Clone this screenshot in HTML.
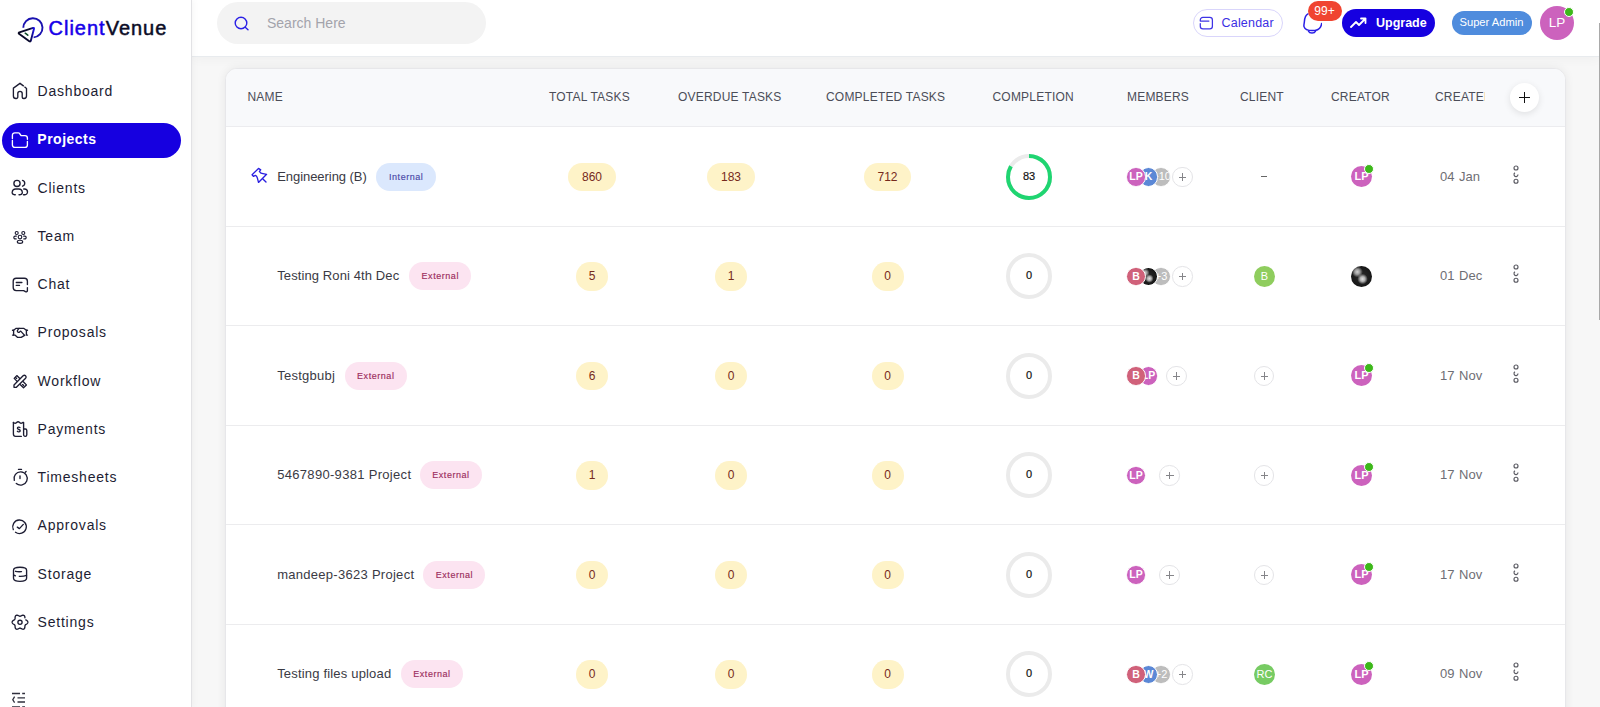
<!DOCTYPE html>
<html><head><meta charset="utf-8">
<style>
*{box-sizing:border-box;margin:0;padding:0}
html,body{width:1600px;height:707px;overflow:hidden;background:#f7f7f7;font-family:"Liberation Sans",sans-serif;position:relative}
.abs{position:absolute}
#side{position:absolute;left:0;top:0;width:192px;height:707px;background:#fff;border-right:1px solid #e2e2e5;box-shadow:1px 0 7px rgba(0,0,0,0.045);z-index:2}
.nav{position:absolute;left:0;width:191px;height:36px}
.nav svg{position:absolute;left:12px;top:10px;width:16px;height:16px;fill:none;stroke:#2f2f3d;stroke-width:1.5;stroke-linecap:round;stroke-linejoin:round}
.nav span{position:absolute;left:38px;top:10px;font-size:14px;letter-spacing:0.55px;color:#2a2a38;line-height:16px}
.nav.act{left:2px;width:179px;height:35px;background:#1600e0;border-radius:18px}
.nav.act svg{left:10px;stroke:#fff}
.nav.act span{left:35.5px;color:#fff;font-weight:bold;letter-spacing:0.1px}
#hdr{position:absolute;left:192px;top:0;width:1408px;height:56px;background:#fff;box-shadow:0 1px 0 #e8ebee,0 2px 12px rgba(0,0,0,0.045);z-index:1}
#card{position:absolute;left:225px;top:68px;width:1341px;height:700px;background:#fff;border:1px solid #e7e7ea;border-radius:12px;box-shadow:0 0 10px rgba(0,0,0,0.07);overflow:hidden}
#thead{position:absolute;left:0;top:0;width:100%;height:58px;background:#f8f9fb;border-bottom:1.5px solid #ececef}
.th{position:absolute;top:21.2px;font-size:12px;color:#4b4d58;letter-spacing:0.2px;line-height:14px;white-space:nowrap}
.row{position:absolute;left:0;width:100%;border-bottom:1px solid #ececee}
.pill{position:absolute;height:28.5px;border-radius:14.25px;background:#fef3c8;color:#762a1c;font-size:12px;text-align:center;line-height:29px}
.nm{position:absolute;font-size:13px;color:#3a3a44;line-height:16px;white-space:nowrap;letter-spacing:0.1px}
.badge{position:absolute;height:28px;border-radius:14px;font-size:9px;line-height:28.5px;text-align:center;letter-spacing:0.55px;text-indent:0.55px;-webkit-text-stroke:0.15px currentColor}
.int{background:#dbe8fd;color:#4a48a8}
.ext{background:#fce4f1;color:#9b2c5c}
.ring{position:absolute;width:46px;height:46px}
.ring span{position:absolute;left:0;top:0;width:46px;height:46px;text-align:center;line-height:44.6px;font-size:11px;color:#111;-webkit-text-stroke:0.2px #111}
.av{position:absolute;border-radius:50%;color:#fff;text-align:center;overflow:hidden;font-weight:bold}
.plus{position:absolute;width:20px;height:20px;border-radius:50%;border:1px solid #e4e4e7;background:#fff}
.plus:before{content:"";position:absolute;left:5.9px;top:8.9px;width:7.5px;height:1px;background:#858589}
.plus:after{content:"";position:absolute;left:9.1px;top:5.6px;width:1px;height:7.5px;background:#858589}
.date{position:absolute;left:1214px;width:45.3px;word-spacing:1px;overflow:hidden;white-space:nowrap;font-size:13px;color:#6e6e74;line-height:16px}
.keb{position:absolute;left:1286.4px;width:8px;height:20px}
.dot{position:absolute;width:9px;height:9px;border-radius:50%;background:#3db81a;border:1px solid #fff}
</style></head>
<body>
<div id="side">
  <svg class="abs" style="left:15px;top:14px" width="30" height="30" viewBox="0 0 30 30">
    <defs><linearGradient id="lg" x1="0" y1="0" x2="1" y2="0"><stop offset="0" stop-color="#0a0a24"/><stop offset="0.75" stop-color="#0a0a30"/><stop offset="1" stop-color="#1c10f0"/></linearGradient></defs>
    <path d="M8.3 13.8 A9.6 9.6 0 1 1 18.6 23.4" fill="none" stroke="#1a12b0" stroke-width="1.9"/>
    <path d="M4.4 18.3 L18.1 13.9 Q19.3 13.6 19 14.8 L15.9 26.6 Q15.5 28 14.3 27.2 L4 19.8 Q3.2 19 4.4 18.3Z" fill="none" stroke="url(#lg)" stroke-width="1.9" stroke-linejoin="round"/>
    <path d="M10.2 19.2 L12.8 21.2" stroke="#0d4a26" stroke-width="1.5" stroke-linecap="round"/>
  </svg>
  <div class="abs" style="left:48.5px;top:17px;font-size:20px;font-weight:normal;line-height:22px;letter-spacing:1px;-webkit-text-stroke:0.5px currentColor"><span style="color:#1600e8">Client</span><span style="color:#0c0c26">Venue</span></div>

  <svg class="abs" style="left:8px;top:80.00px" width="24" height="24" viewBox="0 0 24 24" fill="none" stroke="#1d1d33" stroke-width="1.35" stroke-linecap="round" stroke-linejoin="round"><path d="M12 3.4L5.4 8.1V16a2.5 2.5 0 0 0 2.5 2.5h.4a1.5 1.5 0 0 0 1.5-1.5v-3.4a2.2 2.2 0 0 1 4.4 0V17a1.5 1.5 0 0 0 1.5 1.5h.4a2.5 2.5 0 0 0 2.4-2.5V8.5L16.8 7.1"/><path d="M12 3.4l3.4 2.5"/></svg>
  <div class="abs" style="left:37.6px;top:83.15px;font-size:14px;line-height:16px;letter-spacing:0.78px;color:#1d1d33;font-weight:normal">Dashboard</div>
  <div class="abs" style="left:2px;top:122.5px;width:179px;height:35px;background:#1600e0;border-radius:17.5px"></div>
  <svg class="abs" style="left:8px;top:128.18px" width="24" height="24" viewBox="0 0 24 24" fill="none" stroke="#fff" stroke-width="1.35" stroke-linecap="round" stroke-linejoin="round"><path d="M4.4 10.6V7.2a2.4 2.4 0 0 1 2.4-2.4h3.6c.5 0 .8.2 1.1.6l1.1 1.6c.3.4.6.6 1.1.6h3.3a2.4 2.4 0 0 1 2.4 2.4v1.2"/><path d="M19.4 13.4V17a2.4 2.4 0 0 1-2.4 2.4H6.8A2.4 2.4 0 0 1 4.4 17v-4.6"/></svg>
  <div class="abs" style="left:37.3px;top:131.39px;font-size:14px;line-height:16px;letter-spacing:0.5px;color:#fff;font-weight:bold">Projects</div>
  <svg class="abs" style="left:8px;top:176.36px" width="24" height="24" viewBox="0 0 24 24" fill="none" stroke="#1d1d33" stroke-width="1.35" stroke-linecap="round" stroke-linejoin="round"><circle cx="9" cy="7.4" r="3.1"/><path d="M14.5 4.4a3 3 0 0 1 0 5.8"/><path d="M7.3 18.7H6.2a2.3 2.3 0 0 1-2-2.8 3.5 3.5 0 0 1 3.4-2.9h3.3a3.5 3.5 0 0 1 3.4 2.9 2.3 2.3 0 0 1-2 2.8H11"/><path d="M15.7 13h.8a3 3 0 0 1 3 2.9 2.6 2.6 0 0 1-2.6 2.8h-1.4"/></svg>
  <div class="abs" style="left:37.6px;top:179.63px;font-size:14px;line-height:16px;letter-spacing:0.78px;color:#1d1d33;font-weight:normal">Clients</div>
  <svg class="abs" style="left:8px;top:224.54px" width="24" height="24" viewBox="0 0 24 24" fill="none" stroke="#1d1d33" stroke-width="1.35" stroke-linecap="round" stroke-linejoin="round"><g stroke-width="1.15"><circle cx="8.7" cy="8" r="1.5"/><circle cx="15.3" cy="8" r="1.5"/><circle cx="12" cy="12" r="1.8"/><path d="M8.4 11.1H7.2a1.4 1.4 0 0 0 0 2.8h1"/><path d="M15.6 11.1h1.2a1.4 1.4 0 0 1 0 2.8h-1"/><ellipse cx="12" cy="16.8" rx="2.7" ry="1.6"/></g></svg>
  <div class="abs" style="left:37.6px;top:227.87px;font-size:14px;line-height:16px;letter-spacing:0.78px;color:#1d1d33;font-weight:normal">Team</div>
  <svg class="abs" style="left:8px;top:272.72px" width="24" height="24" viewBox="0 0 24 24" fill="none" stroke="#1d1d33" stroke-width="1.35" stroke-linecap="round" stroke-linejoin="round"><path d="M19.4 11.6V8.2a3 3 0 0 0-3-3H8.2a3 3 0 0 0-3 3v6.4a3 3 0 0 0 3 3h7.4l1.9 1.1a1.3 1.3 0 0 0 1.9-1.1v-3"/><path d="M8.3 9.5h5.6M8.3 12.4h3.2"/></svg>
  <div class="abs" style="left:37.6px;top:276.11px;font-size:14px;line-height:16px;letter-spacing:0.78px;color:#1d1d33;font-weight:normal">Chat</div>
  <svg class="abs" style="left:8px;top:320.90px" width="24" height="24" viewBox="0 0 24 24" fill="none" stroke="#1d1d33" stroke-width="1.35" stroke-linecap="round" stroke-linejoin="round"><path d="M4.5 9.2h1.1v4.9H4.5M19.5 9.2h-1.1v4.9h1.1"/><path d="M5.6 9.2l2.6-1.9h7.4l2.8 1.9"/><path d="M5.6 14.1l1.6.1 2.2 2.1h3.8l3.4-1.9"/><path d="M11 7.4L9.5 9.3a1.4 1.4 0 0 0 2 1.8l1.2-1L16.6 14.4"/></svg>
  <div class="abs" style="left:37.6px;top:324.35px;font-size:14px;line-height:16px;letter-spacing:0.78px;color:#1d1d33;font-weight:normal">Proposals</div>
  <svg class="abs" style="left:8px;top:369.08px" width="24" height="24" viewBox="0 0 24 24" fill="none" stroke="#1d1d33" stroke-width="1.35" stroke-linecap="round" stroke-linejoin="round"><path d="M6 18.3V15.9L15.1 6.8a1.7 1.7 0 0 1 2.5 2.4L8.4 18.3z"/><path d="M9.1 12.4L6.2 9.4l2.6-2.8 3 3"/><path d="M12.4 15.7l3.1 3 2.9-2.8-3.1-3.2"/><path d="M7.6 8.4l1 1M14.6 15.6l1 1"/></svg>
  <div class="abs" style="left:37.6px;top:372.59px;font-size:14px;line-height:16px;letter-spacing:0.78px;color:#1d1d33;font-weight:normal">Workflow</div>
  <svg class="abs" style="left:8px;top:417.26px" width="24" height="24" viewBox="0 0 24 24" fill="none" stroke="#1d1d33" stroke-width="1.35" stroke-linecap="round" stroke-linejoin="round"><path d="M5.4 5.3v11.8a2.2 2.2 0 0 0 2.2 2.2h5.8"/><path d="M5.4 5.4c1 1.1 2.2 1.1 3.2.1 1-1 2-1 3 0s2.2 1 3.2-.1h.8v12.3a1.6 1.6 0 0 0 3.2 0v-4.3a1.4 1.4 0 0 0-1.4-1.4h-1.8"/><path d="M12 10.6c-.6-.7-2.6-.7-2.6.6 0 1.5 2.8 1.1 2.8 2.5 0 1.4-2.2 1.4-2.8.6"/></svg>
  <div class="abs" style="left:37.6px;top:420.83px;font-size:14px;line-height:16px;letter-spacing:0.78px;color:#1d1d33;font-weight:normal">Payments</div>
  <svg class="abs" style="left:8px;top:465.44px" width="24" height="24" viewBox="0 0 24 24" fill="none" stroke="#1d1d33" stroke-width="1.35" stroke-linecap="round" stroke-linejoin="round"><path d="M6.3 15.4a6.6 6.6 0 1 1 2 3.1"/><path d="M10.5 4.4h3M17.3 7.3l.8-.8M12 10.8v2.7"/></svg>
  <div class="abs" style="left:37.6px;top:469.07px;font-size:14px;line-height:16px;letter-spacing:0.78px;color:#1d1d33;font-weight:normal">Timesheets</div>
  <svg class="abs" style="left:8px;top:513.62px" width="24" height="24" viewBox="0 0 24 24" fill="none" stroke="#1d1d33" stroke-width="1.35" stroke-linecap="round" stroke-linejoin="round"><path d="M5.3 15.6A6.8 6.8 0 1 1 7.5 18.3"/><path d="M9.3 13.1l2.1 1.5 3.9-4.2"/></svg>
  <div class="abs" style="left:37.6px;top:517.31px;font-size:14px;line-height:16px;letter-spacing:0.78px;color:#1d1d33;font-weight:normal">Approvals</div>
  <svg class="abs" style="left:8px;top:561.80px" width="24" height="24" viewBox="0 0 24 24" fill="none" stroke="#1d1d33" stroke-width="1.35" stroke-linecap="round" stroke-linejoin="round"><path d="M5.5 8.3c0-2 2.5-3.1 6.5-3.1s6.6 1.1 6.6 3.1v8c0 2-2.6 3-6.6 3s-6.5-1-6.5-3z"/><path d="M7.5 9.3c1.5.4 3.8.5 6 .3"/><path d="M6.4 13.3c.3.3.7.5 1 .6M11.3 14.3c2.8.1 5.4-.2 7.2-.9"/></svg>
  <div class="abs" style="left:37.6px;top:565.55px;font-size:14px;line-height:16px;letter-spacing:0.78px;color:#1d1d33;font-weight:normal">Storage</div>
  <svg class="abs" style="left:8px;top:609.98px" width="24" height="24" viewBox="0 0 24 24" fill="none" stroke="#1d1d33" stroke-width="1.35" stroke-linecap="round" stroke-linejoin="round"><path d="M17.81 9.85 L18.14 10.07 L18.49 10.30 L18.85 10.55 L19.19 10.85 L19.48 11.17 L19.69 11.53 L19.82 11.90 L19.85 12.29 L19.77 12.68 L19.60 13.04 L19.35 13.39 L19.04 13.70 L18.69 13.97 L18.33 14.21 L17.98 14.44 L17.67 14.64 L17.41 14.86 L17.21 15.09 L17.07 15.35 L16.99 15.65 L16.94 15.99 L16.92 16.38 L16.90 16.80 L16.86 17.23 L16.79 17.67 L16.66 18.09 L16.47 18.47 L16.22 18.78 L15.91 19.01 L15.54 19.15 L15.14 19.21 L14.72 19.17 L14.30 19.07 L13.88 18.91 L13.49 18.72 L13.12 18.53 L12.77 18.36 L12.46 18.23 L12.16 18.16 L11.86 18.16 L11.56 18.22 L11.25 18.35 L10.91 18.52 L10.54 18.71 L10.14 18.90 L9.73 19.06 L9.30 19.17 L8.88 19.21 L8.48 19.16 L8.11 19.02 L7.80 18.79 L7.54 18.49 L7.35 18.11 L7.22 17.70 L7.14 17.26 L7.10 16.82 L7.08 16.40 L7.06 16.01 L7.02 15.67 L6.94 15.36 L6.80 15.10 L6.61 14.87 L6.35 14.66 L6.04 14.45 L5.70 14.23 L5.34 13.99 L4.98 13.71 L4.67 13.41 L4.41 13.06 L4.24 12.70 L4.15 12.31 L4.18 11.93 L4.30 11.55 L4.51 11.19 L4.79 10.86 L5.13 10.57 L5.48 10.31 L5.84 10.08 L6.17 9.87 L6.46 9.66 L6.69 9.44 L6.86 9.19 L6.98 8.92 L7.04 8.60 L7.07 8.23 L7.09 7.83 L7.11 7.40 L7.17 6.96 L7.27 6.53 L7.42 6.13 L7.64 5.78 L7.92 5.50 L8.26 5.31 L8.64 5.21 L9.05 5.20 L9.48 5.27 L9.90 5.40 L10.31 5.58 L10.69 5.77 L11.05 5.96 L11.38 6.11 L11.69 6.21 L11.98 6.25 L12.28 6.22 L12.58 6.12 L12.91 5.98 L13.26 5.79 L13.65 5.60 L14.05 5.42 L14.47 5.28 L14.90 5.20 L15.31 5.21 L15.70 5.29 L16.04 5.48 L16.33 5.74 L16.55 6.08 L16.72 6.48 L16.82 6.91 L16.88 7.35 L16.91 7.78"/><circle cx="12" cy="12.3" r="2.1"/></svg>
  <div class="abs" style="left:37.6px;top:613.79px;font-size:14px;line-height:16px;letter-spacing:0.78px;color:#1d1d33;font-weight:normal">Settings</div>
  <svg class="abs" style="left:11px;top:692px" width="16" height="16" viewBox="0 0 16 16" fill="none" stroke="#2f2f3d" stroke-width="1.3"><path d="M1 1.5h8M11.2 1.5h2.8M6.5 5.8h7.5M6.5 10h7.5M3.6 4.6L1.8 7.8 3.6 10.6M1 14.8h8M11.2 14.8h2.8"/></svg>
</div>
<div id="hdr">
  <div class="abs" style="left:25px;top:2.3px;width:269px;height:41.3px;border-radius:21px;background:#f3f3f3"></div>
  <svg class="abs" style="left:42px;top:16px" width="16" height="15" viewBox="0 0 16 15" fill="none" stroke="#2a1fe6" stroke-width="1.4" stroke-linecap="round"><circle cx="7" cy="7" r="5.8"/><path d="M11.2 11.2l2.8 2.5"/></svg>
  <div class="abs" style="left:75px;top:15px;font-size:14px;color:#a3a3ab;line-height:16px">Search Here</div>

  <div class="abs" style="left:1001px;top:9px;width:90px;height:28px;border:1px solid #d9d5fb;border-radius:14px"></div>
  <svg class="abs" style="left:1007px;top:16px" width="15" height="15" viewBox="0 0 15 15" fill="none" stroke="#3f34e6" stroke-width="1.25" stroke-linecap="round" stroke-linejoin="round"><path d="M1.3 7.6v2.7a2.6 2.6 0 0 0 2.6 2.6h6.9a2.6 2.6 0 0 0 2.6-2.6V4a2.6 2.6 0 0 0-2.6-2.6H3.9A2.6 2.6 0 0 0 1.3 4v1.1h8.6"/></svg>
  <div class="abs" style="left:1029.5px;top:16px;font-size:12.5px;color:#3b2fe4;line-height:14px;letter-spacing:0.2px">Calendar</div>

  <svg class="abs" style="left:1108px;top:12px" width="22" height="24" viewBox="0 0 22 24" fill="none" stroke="#2a1fe6" stroke-width="1.5" stroke-linecap="round" stroke-linejoin="round"><path d="M8 1.8C5.5 3.2 4.6 6 4.4 9.5 4.3 11.5 3.6 12.8 4 14.6 4.8 17.2 8 18.6 12 18.6S19.4 17.2 20.6 14.8C21.3 13.5 21.6 12.4 21.6 11.5"/><path d="M8.5 19.2c1 2.4 6 2.4 7 0"/></svg>
  <div class="abs" style="left:1115.5px;top:1px;width:34px;height:20px;border-radius:10px;background:#f04431;color:#fff;font-size:12px;line-height:20px;text-align:center">99+</div>

  <div class="abs" style="left:1150px;top:9px;width:93px;height:28px;border-radius:14px;background:#1600e0"></div>
  <svg class="abs" style="left:1158px;top:16px" width="17" height="13" viewBox="0 0 17 13" fill="none" stroke="#fff" stroke-width="1.8" stroke-linecap="round" stroke-linejoin="round"><path d="M1 11l5-5 3 3 6.5-6.5M11 2.5h4.5V7"/></svg>
  <div class="abs" style="left:1184px;top:16px;font-size:12.5px;font-weight:bold;color:#fff;line-height:14px">Upgrade</div>

  <div class="abs" style="left:1259.5px;top:11px;width:80px;height:24px;border-radius:12px;background:#4f8cdd;color:#fff;font-size:11.2px;line-height:23px;text-align:center">Super Admin</div>
  <div class="abs" style="left:1348px;top:6px;width:34px;height:34px;border-radius:50%;background:#cc62bd;color:#fff;font-size:13.5px;line-height:33px;text-align:center">LP</div>
  <div class="abs" style="left:1371.5px;top:6.5px;width:10px;height:10px;border-radius:50%;background:#3db81a;border:1.5px solid #fff"></div>
</div>
<div class="abs" style="left:1598.5px;top:23px;width:1.5px;height:297px;background:#a9a9a9;z-index:3"></div>

<div id="card">
  <div id="thead">
    <div class="th" style="left:21.5px">NAME</div>
    <div class="th" style="left:323px">TOTAL TASKS</div>
    <div class="th" style="left:452px">OVERDUE TASKS</div>
    <div class="th" style="left:600px">COMPLETED TASKS</div>
    <div class="th" style="left:766.5px">COMPLETION</div>
    <div class="th" style="left:901px">MEMBERS</div>
    <div class="th" style="left:1014px">CLIENT</div>
    <div class="th" style="left:1105px">CREATOR</div>
    <div class="th" style="left:1209px;width:50px;overflow:hidden">CREATED</div>
    <div class="abs" style="left:1284.3px;top:13.8px;width:29px;height:29px;border-radius:50%;background:#fff;box-shadow:0 2px 7px rgba(0,0,0,0.10)"></div>
    <div class="abs" style="left:1293.3px;top:27.7px;width:11px;height:1.3px;background:#111"></div>
    <div class="abs" style="left:1298.2px;top:22.8px;width:1.3px;height:11px;background:#111"></div>
  </div>
  <div id="rows">
<div class="row" style="top:58px;height:100px"></div>
<svg class="abs" style="left:20px;top:93px" width="26" height="26" viewBox="0 0 26 26" fill="none" stroke="#2a1fe0" stroke-width="1.35" stroke-linejoin="round" stroke-linecap="round"><path d="M12.5 6.4L14.7 7.9 13.4 9.4C14.200 10.600 14.800 11.300 15.800 11.400L20.600 12.300 12.500 20.400 11.400 16.200C11 14.600 10.300 13.700 9.400 13.400L7.400 14.300 6.100 12.700Z"/><path d="M16.9 16.9L20 20"/></svg>
<div class="nm" style="left:51.2px;top:99.70000000000002px;letter-spacing:-0.050px">Engineering (B)</div>
<div class="badge int" style="left:150.10000000000002px;width:59.7px;top:93.9px">Internal</div>
<div class="pill" style="left:342.25px;top:93.9px;width:47.5px">860</div>
<div class="pill" style="left:481.25px;top:93.9px;width:47.5px">183</div>
<div class="pill" style="left:637.75px;top:93.9px;width:47.5px">712</div>
<div class="ring" style="left:780px;top:84.9px"><svg width="46" height="46" viewBox="0 0 46 46"><circle cx="23" cy="23" r="21" fill="none" stroke="#ebebeb" stroke-width="4"/><circle cx="23" cy="23" r="21" fill="none" stroke="#1fd571" stroke-width="4" stroke-dasharray="109.52 131.95" transform="rotate(-90 23 23)"/></svg><span>83</span></div>
<div class="av" style="left:900.25px;top:98.15px;width:19.5px;height:19.5px;background:#cc62bd;z-index:10;border:1px solid #fff;font-size:10.5px;line-height:17.5px;font-weight:bold;white-space:nowrap;text-indent:-10px;padding-left:10px">LP</div>
<div class="av" style="left:912.75px;top:98.15px;width:19.5px;height:19.5px;background:#5b88d6;z-index:9;border:1px solid #fff;font-size:10.5px;line-height:17.5px;font-weight:bold;white-space:nowrap;text-indent:-10px;padding-left:10px">K</div>
<div class="av" style="left:925.25px;top:98.15px;width:19.5px;height:19.5px;background:#bdbdbd;z-index:8;border:1px solid #fff;font-size:11px;line-height:17.5px;font-weight:normal;white-space:nowrap;text-indent:-10px;padding-left:10px">+10</div>
<div class="plus" style="left:946.00px;top:97.65px;width:20.5px;height:20.5px"></div>
<div class="abs" style="left:1035px;top:106.9px;width:6px;height:1px;background:#666"></div>
<div class="av" style="left:1125.10px;top:97.40px;width:21px;height:21px;background:#cc62bd;font-size:11px;line-height:21px;font-weight:bold">LP</div>
<div class="dot" style="left:1137.80px;top:94.90px;width:10px;height:10px"></div>
<div class="date" style="top:99.80000000000001px">04 Jan 2024</div>
<svg class="keb" style="top:95.9px" viewBox="0 0 8 20" fill="none" stroke="#5a5a62" stroke-width="1.15"><circle cx="4" cy="3" r="2"/><path d="M3 7.87A2 2 0 1 0 6 9.6"/><circle cx="4" cy="16.2" r="2"/></svg>
<div class="row" style="top:158px;height:99px"></div>
<div class="nm" style="left:51.2px;top:199.2px;letter-spacing:0.105px">Testing Roni 4th Dec</div>
<div class="badge ext" style="left:183px;width:62px;top:193.39999999999998px">External</div>
<div class="pill" style="left:350.00px;top:193.39999999999998px;width:32px">5</div>
<div class="pill" style="left:489.00px;top:193.39999999999998px;width:32px">1</div>
<div class="pill" style="left:645.50px;top:193.39999999999998px;width:32px">0</div>
<div class="ring" style="left:780px;top:184.39999999999998px"><svg width="46" height="46" viewBox="0 0 46 46"><circle cx="23" cy="23" r="21" fill="none" stroke="#ebebeb" stroke-width="4"/></svg><span>0</span></div>
<div class="av" style="left:900.25px;top:197.65px;width:19.5px;height:19.5px;background:#d0617a;z-index:10;border:1px solid #fff;font-size:10.5px;line-height:17.5px;font-weight:bold;white-space:nowrap;text-indent:-10px;padding-left:10px">B</div>
<div class="av" style="left:912.75px;top:197.65px;width:19.5px;height:19.5px;background:radial-gradient(circle at 55% 62%,#e0e0e0 0,#b0b0b0 14%,rgba(40,40,40,0) 30%),radial-gradient(circle at 30% 28%,#cfcfcf 0,#999 12%,rgba(30,30,30,0) 26%),radial-gradient(circle at 50% 50%,#2a2a2a 0,#1a1a1a 60%,#0a0a0a 100%);z-index:9;border:1px solid #fff;"></div>
<div class="av" style="left:925.25px;top:197.65px;width:19.5px;height:19.5px;background:#bdbdbd;z-index:8;border:1px solid #fff;font-size:11px;line-height:17.5px;font-weight:normal;white-space:nowrap;text-indent:-10px;padding-left:10px">+3</div>
<div class="plus" style="left:946.00px;top:197.15px;width:20.5px;height:20.5px"></div>
<div class="av" style="left:1027.90px;top:196.90px;width:21px;height:21px;background:#8fcd5e;font-size:11px;line-height:21px;font-weight:normal">B</div>
<div class="av" style="left:1125.30px;top:196.90px;width:21px;height:21px;background:radial-gradient(circle at 55% 62%,#e0e0e0 0,#b0b0b0 14%,rgba(40,40,40,0) 30%),radial-gradient(circle at 30% 28%,#cfcfcf 0,#999 12%,rgba(30,30,30,0) 26%),radial-gradient(circle at 50% 50%,#2a2a2a 0,#1a1a1a 60%,#0a0a0a 100%);"></div>
<div class="date" style="top:199.29999999999995px">01 Dec 2023</div>
<svg class="keb" style="top:195.39999999999998px" viewBox="0 0 8 20" fill="none" stroke="#5a5a62" stroke-width="1.15"><circle cx="4" cy="3" r="2"/><path d="M3 7.87A2 2 0 1 0 6 9.6"/><circle cx="4" cy="16.2" r="2"/></svg>
<div class="row" style="top:257px;height:100px"></div>
<div class="nm" style="left:51.2px;top:298.7px;letter-spacing:0.250px">Testgbubj</div>
<div class="badge ext" style="left:118.5px;width:62px;top:292.9px">External</div>
<div class="pill" style="left:350.00px;top:292.9px;width:32px">6</div>
<div class="pill" style="left:489.00px;top:292.9px;width:32px">0</div>
<div class="pill" style="left:645.50px;top:292.9px;width:32px">0</div>
<div class="ring" style="left:780px;top:283.9px"><svg width="46" height="46" viewBox="0 0 46 46"><circle cx="23" cy="23" r="21" fill="none" stroke="#ebebeb" stroke-width="4"/></svg><span>0</span></div>
<div class="av" style="left:900.25px;top:297.15px;width:19.5px;height:19.5px;background:#d0617a;z-index:10;border:1px solid #fff;font-size:10.5px;line-height:17.5px;font-weight:bold;white-space:nowrap;text-indent:-10px;padding-left:10px">B</div>
<div class="av" style="left:912.75px;top:297.15px;width:19.5px;height:19.5px;background:#cc62bd;z-index:9;border:1px solid #fff;font-size:10.5px;line-height:17.5px;font-weight:bold;white-space:nowrap;text-indent:-10px;padding-left:10px">LP</div>
<div class="plus" style="left:940.00px;top:296.65px;width:20.5px;height:20.5px"></div>
<div class="plus" style="left:1027.75px;top:296.65px;width:20.5px;height:20.5px"></div>
<div class="av" style="left:1125.10px;top:296.40px;width:21px;height:21px;background:#cc62bd;font-size:11px;line-height:21px;font-weight:bold">LP</div>
<div class="dot" style="left:1137.80px;top:293.90px;width:10px;height:10px"></div>
<div class="date" style="top:298.79999999999995px">17 Nov 2023</div>
<svg class="keb" style="top:294.9px" viewBox="0 0 8 20" fill="none" stroke="#5a5a62" stroke-width="1.15"><circle cx="4" cy="3" r="2"/><path d="M3 7.87A2 2 0 1 0 6 9.6"/><circle cx="4" cy="16.2" r="2"/></svg>
<div class="row" style="top:357px;height:99px"></div>
<div class="nm" style="left:51.2px;top:398.2px;letter-spacing:0.311px">5467890-9381 Project</div>
<div class="badge ext" style="left:193.7px;width:62px;top:392.4px">External</div>
<div class="pill" style="left:350.00px;top:392.4px;width:32px">1</div>
<div class="pill" style="left:489.00px;top:392.4px;width:32px">0</div>
<div class="pill" style="left:645.50px;top:392.4px;width:32px">0</div>
<div class="ring" style="left:780px;top:383.4px"><svg width="46" height="46" viewBox="0 0 46 46"><circle cx="23" cy="23" r="21" fill="none" stroke="#ebebeb" stroke-width="4"/></svg><span>0</span></div>
<div class="av" style="left:900.25px;top:396.65px;width:19.5px;height:19.5px;background:#cc62bd;z-index:10;border:1px solid #fff;font-size:10.5px;line-height:17.5px;font-weight:bold;white-space:nowrap;text-indent:-10px;padding-left:10px">LP</div>
<div class="plus" style="left:933.25px;top:396.15px;width:20.5px;height:20.5px"></div>
<div class="plus" style="left:1027.75px;top:396.15px;width:20.5px;height:20.5px"></div>
<div class="av" style="left:1125.10px;top:395.90px;width:21px;height:21px;background:#cc62bd;font-size:11px;line-height:21px;font-weight:bold">LP</div>
<div class="dot" style="left:1137.80px;top:393.40px;width:10px;height:10px"></div>
<div class="date" style="top:398.29999999999995px">17 Nov 2023</div>
<svg class="keb" style="top:394.4px" viewBox="0 0 8 20" fill="none" stroke="#5a5a62" stroke-width="1.15"><circle cx="4" cy="3" r="2"/><path d="M3 7.87A2 2 0 1 0 6 9.6"/><circle cx="4" cy="16.2" r="2"/></svg>
<div class="row" style="top:456px;height:100px"></div>
<div class="nm" style="left:51.2px;top:497.69999999999993px;letter-spacing:0.279px">mandeep-3623 Project</div>
<div class="badge ext" style="left:197.2px;width:62px;top:491.9px">External</div>
<div class="pill" style="left:350.00px;top:491.9px;width:32px">0</div>
<div class="pill" style="left:489.00px;top:491.9px;width:32px">0</div>
<div class="pill" style="left:645.50px;top:491.9px;width:32px">0</div>
<div class="ring" style="left:780px;top:482.9px"><svg width="46" height="46" viewBox="0 0 46 46"><circle cx="23" cy="23" r="21" fill="none" stroke="#ebebeb" stroke-width="4"/></svg><span>0</span></div>
<div class="av" style="left:900.25px;top:496.15px;width:19.5px;height:19.5px;background:#cc62bd;z-index:10;border:1px solid #fff;font-size:10.5px;line-height:17.5px;font-weight:bold;white-space:nowrap;text-indent:-10px;padding-left:10px">LP</div>
<div class="plus" style="left:933.25px;top:495.65px;width:20.5px;height:20.5px"></div>
<div class="plus" style="left:1027.75px;top:495.65px;width:20.5px;height:20.5px"></div>
<div class="av" style="left:1125.10px;top:495.40px;width:21px;height:21px;background:#cc62bd;font-size:11px;line-height:21px;font-weight:bold">LP</div>
<div class="dot" style="left:1137.80px;top:492.90px;width:10px;height:10px"></div>
<div class="date" style="top:497.79999999999995px">17 Nov 2023</div>
<svg class="keb" style="top:493.9px" viewBox="0 0 8 20" fill="none" stroke="#5a5a62" stroke-width="1.15"><circle cx="4" cy="3" r="2"/><path d="M3 7.87A2 2 0 1 0 6 9.6"/><circle cx="4" cy="16.2" r="2"/></svg>
<div class="row" style="top:556px;height:99px"></div>
<div class="nm" style="left:51.2px;top:597.1999999999999px;letter-spacing:0.179px">Testing files upload</div>
<div class="badge ext" style="left:174.7px;width:62px;top:591.4px">External</div>
<div class="pill" style="left:350.00px;top:591.4px;width:32px">0</div>
<div class="pill" style="left:489.00px;top:591.4px;width:32px">0</div>
<div class="pill" style="left:645.50px;top:591.4px;width:32px">0</div>
<div class="ring" style="left:780px;top:582.4px"><svg width="46" height="46" viewBox="0 0 46 46"><circle cx="23" cy="23" r="21" fill="none" stroke="#ebebeb" stroke-width="4"/></svg><span>0</span></div>
<div class="av" style="left:900.25px;top:595.65px;width:19.5px;height:19.5px;background:#d0617a;z-index:10;border:1px solid #fff;font-size:10.5px;line-height:17.5px;font-weight:bold;white-space:nowrap;text-indent:-10px;padding-left:10px">B</div>
<div class="av" style="left:912.75px;top:595.65px;width:19.5px;height:19.5px;background:#5b88d6;z-index:9;border:1px solid #fff;font-size:10.5px;line-height:17.5px;font-weight:bold;white-space:nowrap;text-indent:-10px;padding-left:10px">W</div>
<div class="av" style="left:925.25px;top:595.65px;width:19.5px;height:19.5px;background:#bdbdbd;z-index:8;border:1px solid #fff;font-size:11px;line-height:17.5px;font-weight:normal;white-space:nowrap;text-indent:-10px;padding-left:10px">+2</div>
<div class="plus" style="left:946.00px;top:595.15px;width:20.5px;height:20.5px"></div>
<div class="av" style="left:1027.90px;top:594.90px;width:21px;height:21px;background:#77cb63;font-size:11px;line-height:21px;font-weight:normal">RC</div>
<div class="av" style="left:1125.10px;top:594.90px;width:21px;height:21px;background:#cc62bd;font-size:11px;line-height:21px;font-weight:bold">LP</div>
<div class="dot" style="left:1137.80px;top:592.40px;width:10px;height:10px"></div>
<div class="date" style="top:597.3px">09 Nov 2023</div>
<svg class="keb" style="top:593.4px" viewBox="0 0 8 20" fill="none" stroke="#5a5a62" stroke-width="1.15"><circle cx="4" cy="3" r="2"/><path d="M3 7.87A2 2 0 1 0 6 9.6"/><circle cx="4" cy="16.2" r="2"/></svg>
</div>
</div>
</body></html>
